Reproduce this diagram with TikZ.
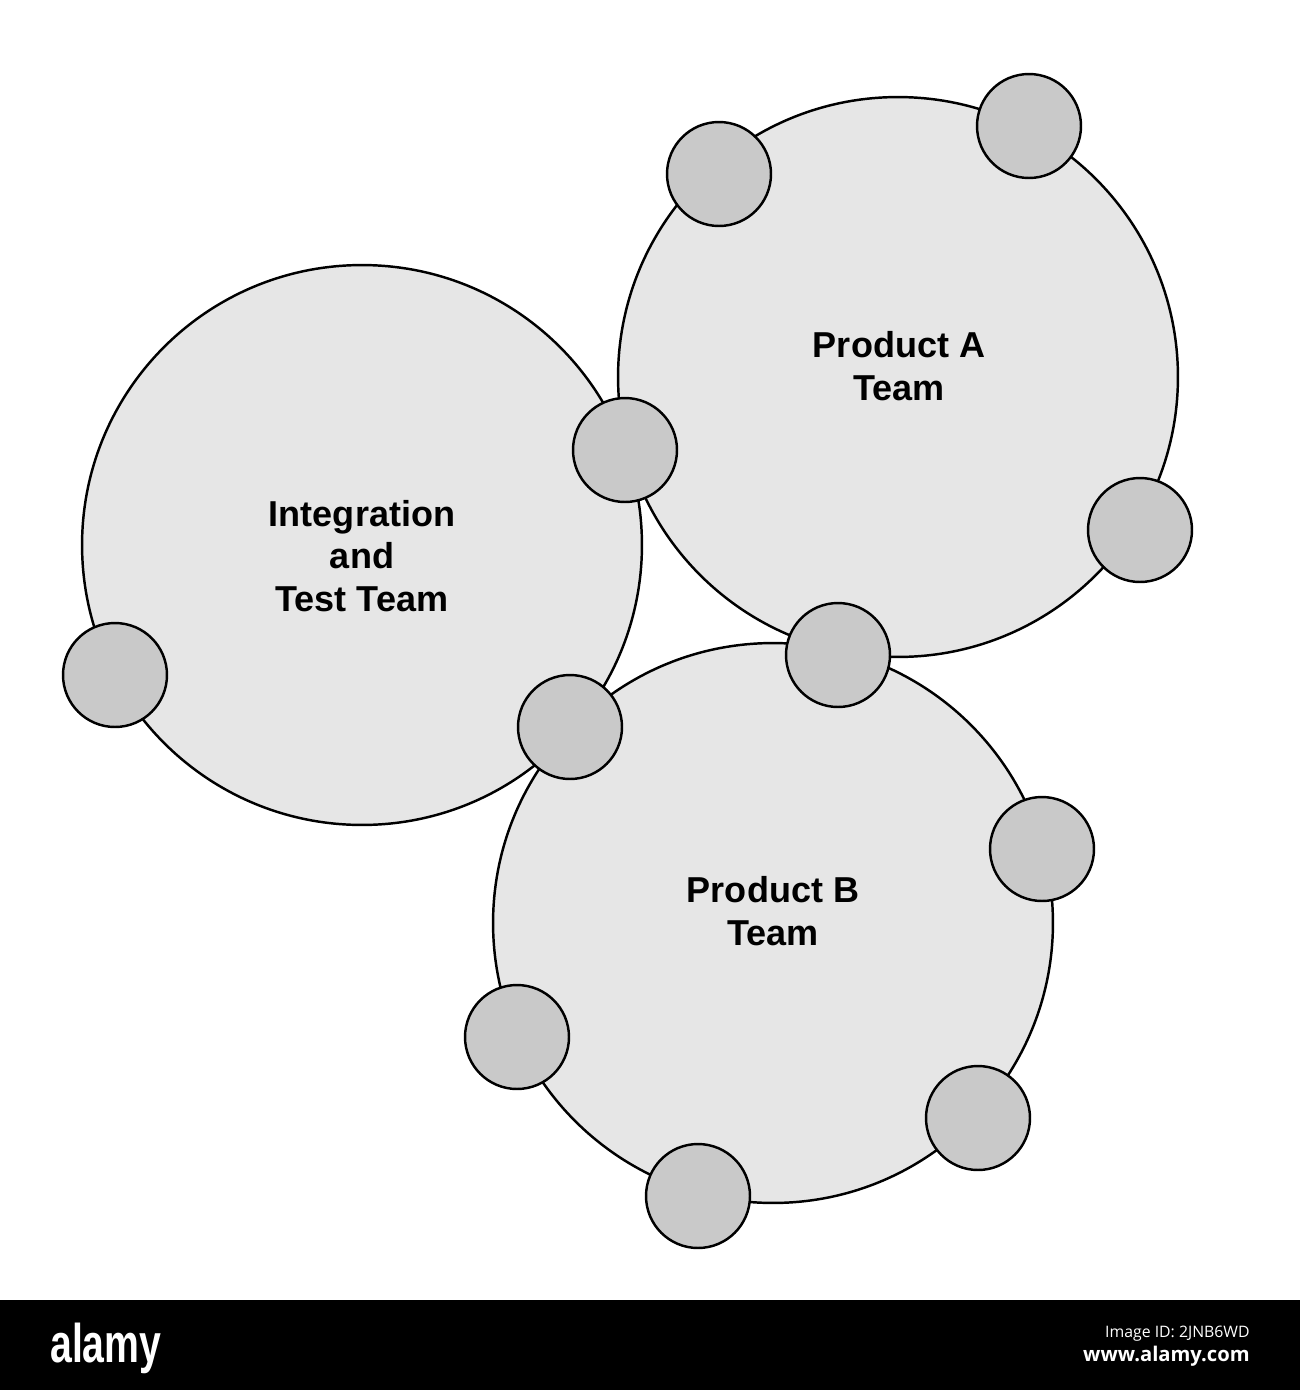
\documentclass[tikz,border=0pt]{standalone}
\usepackage{fontspec}
\setmainfont{Liberation Sans}
\newfontfamily\barfont{Open Sans}
\usetikzlibrary{positioning}
\definecolor{teamgray}{HTML}{E6E6E6}
\definecolor{membergray}{HTML}{C9C9C9}

\begin{document}
\begin{tikzpicture}[
            x=0.02cm,y=-0.02cm,
            team/.style={draw,circle,line width=1.4pt,fill=teamgray,minimum size=11.2cm,inner sep=0},
            member/.style={draw,circle,line width=1.4pt,fill=membergray,minimum size=2.08cm,inner sep=0},
            teamlab/.style={align=center,font=\fontsize{20.5}{24.2}\selectfont\bfseries},
            barlab/.style={text=white,inner sep=0}
          ]
          \useasboundingbox (0,0) rectangle (1300,1390);
          \fill[white] (0,0) rectangle (1300,1300);
          \fill[black] (0,1300) rectangle (1300,1390);

          %teams
          \node[team] (int) at (362,545) {};
          \node[team] (proda) at (898,377) {};
          \node[team] (prodb) at (773,923) {};

          %labels
          \node[teamlab] (intlab) at (362,556) {Integration\\and\\Test Team};
          \node[teamlab] (prodalab) at (899,366) {Product A\\Team};
          \node[teamlab] (prodblab) at (773,911) {Product B\\Team};

          %members
          \node[member] (a1) at (1029,126) {};
          \node[member] (a2) at (719,174) {};
          \node[member] (a3) at (625,450) {};
          \node[member] (a4) at (1140,530) {};
          \node[member] (b1) at (838,655) {};
          \node[member] (i1) at (115,675) {};
          \node[member] (b2) at (570,727) {};
          \node[member] (b3) at (1042,849) {};
          \node[member] (b4) at (517,1037) {};
          \node[member] (b5) at (978,1118) {};
          \node[member] (b6) at (698,1196) {};

          %bar
          \node[barlab,anchor=base west,xscale=0.72,font=\fontsize{31}{31}\selectfont\bfseries] (brand) at (50,1362) {alamy};
          \node[barlab,anchor=base east,font=\barfont\fontsize{9}{9}\selectfont] (imgid) at (1250,1337) {Image ID: 2JNB6WD};
          \node[barlab,anchor=base east,font=\barfont\fontsize{11.5}{11.5}\selectfont\bfseries] (site) at (1250,1361) {www.alamy.com};

      \end{tikzpicture}
\end{document}
